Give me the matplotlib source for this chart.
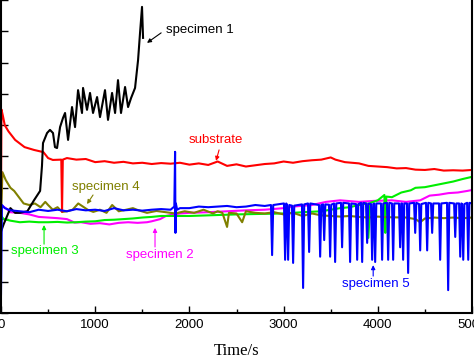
import matplotlib
matplotlib.use("Agg")
import matplotlib.pyplot as plt
from matplotlib.ticker import MultipleLocator

# ---- data (time in s, value on left axis) ----
sub_t = [0, 5, 20, 40, 80, 150, 250, 350, 450, 500, 550, 640, 648, 656, 700, 800, 900,
         1000, 1100, 1200, 1300, 1400, 1500, 1600, 1700, 1800, 1900, 2000, 2100, 2200,
         2300, 2400, 2500, 2600, 2700, 2800, 2900, 3000, 3100, 3200, 3300, 3400, 3500,
         3550, 3650, 3800, 3900, 4000, 4100, 4200, 4300, 4400, 4500, 4600, 4700, 4800,
         4900, 5000]
sub_y = [0.36, 0.65, 0.63, 0.60, 0.58, 0.553, 0.53, 0.521, 0.514, 0.495, 0.489, 0.49,
         0.323, 0.49, 0.495, 0.49, 0.492, 0.482, 0.485, 0.48, 0.483, 0.478, 0.48, 0.476,
         0.479, 0.477, 0.48, 0.474, 0.478, 0.473, 0.484, 0.47, 0.475, 0.468, 0.472, 0.476,
         0.478, 0.484, 0.48, 0.485, 0.488, 0.49, 0.497, 0.49, 0.482, 0.478, 0.47, 0.468,
         0.466, 0.462, 0.463, 0.458, 0.457, 0.46, 0.455, 0.456, 0.455, 0.457]

s1_t = [0, 30, 100, 150, 200, 280, 350, 415, 435, 446, 489, 520, 552, 573, 595, 627, 658,
        680, 712, 754, 786, 818, 860, 871, 913, 945, 977, 1020, 1051, 1104, 1136, 1179,
        1211, 1242, 1274, 1317, 1349, 1381, 1423, 1455, 1476, 1497, 1508]
s1_y = [0.26, 0.285, 0.335, 0.32, 0.32, 0.325, 0.36, 0.39, 0.47, 0.543, 0.575, 0.585,
        0.575, 0.53, 0.527, 0.594, 0.623, 0.639, 0.553, 0.658, 0.594, 0.712, 0.639, 0.719,
        0.649, 0.703, 0.639, 0.69, 0.626, 0.712, 0.617, 0.703, 0.639, 0.744, 0.639, 0.722,
        0.658, 0.687, 0.719, 0.808, 0.895, 0.978, 0.879]

s2_t = [0, 50, 100, 200, 300, 400, 500, 600, 700, 780, 850, 950, 1050, 1150, 1250, 1350,
        1450, 1550, 1600, 1690, 1750, 1800, 1900, 2000, 2200, 2400, 2600, 2800, 3000,
        3100, 3300, 3450, 3600, 3800, 3950, 4150, 4300, 4450, 4550, 4650, 4750, 4850,
        4950, 5000]
s2_y = [0.345, 0.335, 0.322, 0.32, 0.315, 0.307, 0.305, 0.303, 0.30, 0.289, 0.29, 0.285,
        0.287, 0.283, 0.288, 0.29, 0.288, 0.29, 0.293, 0.30, 0.31, 0.313, 0.318, 0.32,
        0.322, 0.325, 0.328, 0.33, 0.335, 0.34, 0.345, 0.355, 0.36, 0.355, 0.358, 0.36,
        0.355, 0.36, 0.375, 0.378, 0.383, 0.385, 0.39, 0.393]

s3_t = [0, 30, 100, 200, 300, 400, 500, 600, 700, 800, 900, 1000, 1100, 1200, 1300, 1400,
        1500, 1600, 1700, 2000, 2500, 3000, 3200, 3400, 3500, 3600, 3700, 3800, 3880,
        3900, 3920, 4000, 4070, 4080, 4090, 4150, 4250, 4350, 4400, 4500, 4600, 4700,
        4800, 4900, 5000]
s3_y = [0.31, 0.30, 0.295, 0.29, 0.292, 0.29, 0.29, 0.291, 0.289, 0.29, 0.292, 0.293,
        0.297, 0.298, 0.30, 0.302, 0.305, 0.307, 0.31, 0.31, 0.315, 0.318, 0.322, 0.325,
        0.33, 0.335, 0.338, 0.345, 0.35, 0.24, 0.352, 0.36, 0.377, 0.256, 0.372, 0.37,
        0.385, 0.392, 0.40, 0.402, 0.408, 0.414, 0.42, 0.428, 0.435]

s4_t = [0, 15, 50, 100, 140, 190, 240, 300, 360, 420, 470, 500, 550, 600, 650, 700, 760,
        820, 870, 920, 980, 1050, 1120, 1180, 1250, 1330, 1400, 1460, 1550, 1650, 1750,
        1850, 1950, 2050, 2150, 2250, 2300, 2350, 2400, 2420, 2500, 2560, 2600, 2700,
        2800, 2900, 3000, 3100, 3200, 3300, 3400, 3500, 3600, 3700, 3800, 3900, 4000,
        4100, 4300, 4400, 4450, 4500, 4600, 4700, 4800, 4900, 5000]
s4_y = [0.30, 0.45, 0.425, 0.40, 0.39, 0.37, 0.35, 0.345, 0.35, 0.338, 0.355, 0.345,
        0.33, 0.338, 0.323, 0.325, 0.33, 0.35, 0.34, 0.33, 0.323, 0.33, 0.32, 0.345,
        0.325, 0.33, 0.335, 0.328, 0.32, 0.326, 0.322, 0.318, 0.325, 0.32, 0.33, 0.318,
        0.325, 0.32, 0.275, 0.32, 0.318, 0.29, 0.325, 0.32, 0.318, 0.322, 0.315, 0.32,
        0.31, 0.318, 0.312, 0.31, 0.308, 0.31, 0.307, 0.305, 0.308, 0.306, 0.305, 0.30,
        0.29, 0.302, 0.305, 0.303, 0.305, 0.303, 0.305]

# specimen 5: steady part, then the downward spikes after ~2850 s
s5_t = [0, 10, 40, 100, 200, 300, 400, 500, 600, 700, 800, 900, 1000, 1100, 1200, 1300,
        1400, 1500, 1600, 1700, 1800, 1840, 1848, 1852, 1856, 1870, 1900, 2000, 2100,
        2200, 2300, 2400, 2500, 2600, 2700, 2800, 2860]
s5_y = [0.06, 0.345, 0.335, 0.328, 0.325, 0.322, 0.33, 0.326, 0.33, 0.325, 0.332, 0.328,
        0.33, 0.326, 0.335, 0.328, 0.33, 0.327, 0.33, 0.332, 0.33, 0.34, 0.515, 0.256,
        0.35, 0.33, 0.335, 0.335, 0.34, 0.338, 0.34, 0.342, 0.338, 0.34, 0.345, 0.342,
        0.345]
spike_t = [2878, 3016, 3048, 3101, 3207, 3271, 3388, 3431, 3494, 3547, 3621, 3706, 3781,
           3834, 3887, 3940, 3972, 4046, 4110, 4163, 4237, 4269, 4322, 4397, 4450, 4524,
           4577, 4662, 4747, 4822, 4875, 4907, 4960]
spike_low = [0.185, 0.17, 0.17, 0.16, 0.08, 0.195, 0.18, 0.233, 0.18, 0.163, 0.21, 0.163,
             0.17, 0.163, 0.224, 0.17, 0.163, 0.17, 0.17, 0.17, 0.21, 0.17, 0.128, 0.256,
             0.20, 0.20, 0.256, 0.17, 0.073, 0.243, 0.18, 0.17, 0.17]
spike_base = [0.345, 0.35, 0.345, 0.343, 0.347, 0.35, 0.345, 0.347, 0.346, 0.35, 0.352,
              0.35, 0.348, 0.352, 0.35, 0.348, 0.35, 0.35, 0.352, 0.35, 0.35, 0.35, 0.35,
              0.352, 0.348, 0.352, 0.35, 0.35, 0.352, 0.35, 0.35, 0.348, 0.352]

for ts, lo, base in zip(spike_t, spike_low, spike_base):
    s5_t += [ts - 12, ts, ts + 12]
    s5_y += [base, lo, base]
s5_t.append(5000)
s5_y.append(0.35)

RED = '#ff0000'
OLIVE = '#808000'
BLUE = '#0000ff'
GREEN = '#00ee00'
MAGENTA = '#ff00ff'

plt.rcParams['font.family'] = ['Liberation Sans', 'DejaVu Sans']

fig = plt.figure(figsize=(4.74, 3.63), dpi=100)
ax = fig.add_axes([1 / 474, 50 / 363, 471 / 474, 313 * 1.03 / 363])

lw = 1.5
ax.plot(s2_t, s2_y, color=MAGENTA, lw=lw)
ax.plot(s3_t, s3_y, color=GREEN, lw=lw)
ax.plot(s4_t, s4_y, color=OLIVE, lw=lw)
ax.plot(sub_t, sub_y, color=RED, lw=lw)
ax.plot(s1_t, s1_y, color='black', lw=lw)
ax.plot(s5_t, s5_y, color=BLUE, lw=lw)

ax.set_xlim(0, 5000)
ax.set_ylim(0, 1.03)
ax.xaxis.set_major_locator(MultipleLocator(1000))
ax.xaxis.set_minor_locator(MultipleLocator(500))
ax.yaxis.set_major_locator(MultipleLocator(0.1))
ax.tick_params(which='major', direction='in', length=5, width=1, labelsize=9.5)
ax.tick_params(which='minor', direction='in', length=3, width=1)
ax.tick_params(axis='x', pad=4)
# the y tick labels sit left of the visible area in the reference
ax.tick_params(axis='y', labelleft=False)
for s in ax.spines.values():
    s.set_linewidth(1.5)

ax.set_xlabel('Time/s', family='Liberation Serif', fontsize=12, labelpad=9)

# labels with small arrows
labels = [
    ('specimen 1', 'black', (2113, 0.904), (1700, 0.895), (1550, 0.863)),
    ('substrate', RED, (2283, 0.553), (2315, 0.521), (2283, 0.486)),
    ('specimen 4', OLIVE, (1115, 0.403), (977, 0.377), (913, 0.348)),
    ('specimen 3', GREEN, (467, 0.198), (457, 0.22), (457, 0.281)),
    ('specimen 2', MAGENTA, (1689, 0.185), (1635, 0.211), (1635, 0.272)),
    ('specimen 5', BLUE, (3983, 0.093), (3951, 0.118), (3951, 0.153)),
]
for txt, col, pos, tail, head in labels:
    ax.text(pos[0], pos[1], txt, color=col, fontsize=9.5, ha='center', va='center')
    ax.annotate('', xy=head, xytext=tail,
                arrowprops=dict(arrowstyle='-|>', color=col, lw=0.8,
                                mutation_scale=6, shrinkA=0, shrinkB=0))

fig.savefig('out.png', dpi=100)
